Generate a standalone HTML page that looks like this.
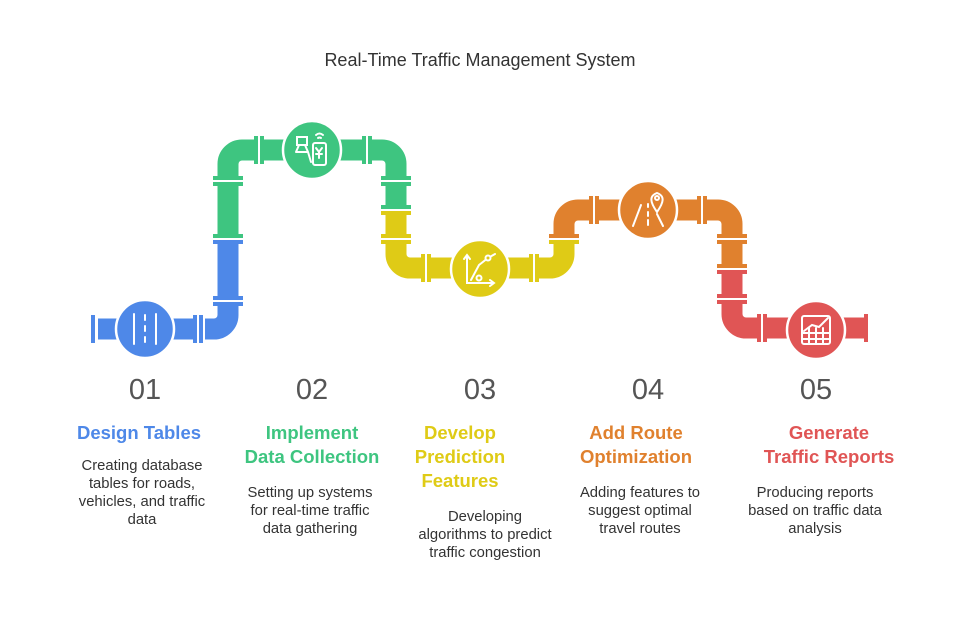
<!DOCTYPE html>
<html><head><meta charset="utf-8"><style>
body{margin:0;background:#fff}
svg{display:block}
text{font-family:"Liberation Sans",sans-serif}
.n{font-size:29px;fill:#555;font-weight:300}
.t{font-size:18.5px;font-weight:bold}
.d{font-size:14.8px;fill:#333}
</style></head><body>
<svg width="960" height="636" viewBox="0 0 960 636" xmlns="http://www.w3.org/2000/svg">
<rect width="960" height="636" fill="#fff"/>
<text x="480" y="66" text-anchor="middle" font-size="18" fill="#333">Real-Time Traffic Management System</text>
<g fill="none" stroke-width="21" stroke-linecap="butt">
<path d="M94 329 H214 A14 14 0 0 0 228 315 V238" stroke="#4E88E8"/>
<path d="M228 238 V164 A14 14 0 0 1 242 150 H382 A14 14 0 0 1 396 164 V208" stroke="#3EC580"/>
<path d="M396 208 V254 A14 14 0 0 0 410 268 H550 A14 14 0 0 0 564 254 V238" stroke="#DFCB16"/>
<path d="M564 238 V224 A14 14 0 0 1 578 210 H718 A14 14 0 0 1 732 224 V268" stroke="#E0812E"/>
<path d="M732 268 V314 A14 14 0 0 0 746 328 H866" stroke="#E05555"/>
</g>
<g>
<g fill="#4E88E8"><rect x="91" y="315" width="4" height="28"/><rect x="193" y="315" width="4" height="28"/><rect x="199" y="315" width="4" height="28"/></g>
<g fill="#fff"><rect x="95" y="315" width="3" height="28"/><rect x="197" y="315" width="2" height="28"/><rect x="203" y="315" width="2" height="28"/></g>
<g>
<rect x="213" y="296" width="30" height="4" fill="#4E88E8"/><rect x="213" y="300" width="30" height="2" fill="#fff"/><rect x="213" y="302" width="30" height="4" fill="#4E88E8"/>
<rect x="213" y="234" width="30" height="4" fill="#3EC580"/><rect x="213" y="238" width="30" height="2" fill="#fff"/><rect x="213" y="240" width="30" height="4" fill="#4E88E8"/>
<rect x="213" y="176" width="30" height="4" fill="#3EC580"/><rect x="213" y="180" width="30" height="2" fill="#fff"/><rect x="213" y="182" width="30" height="4" fill="#3EC580"/>
<rect x="381" y="176" width="30" height="4" fill="#3EC580"/><rect x="381" y="180" width="30" height="2" fill="#fff"/><rect x="381" y="182" width="30" height="4" fill="#3EC580"/>
<rect x="381" y="205" width="30" height="4" fill="#3EC580"/><rect x="381" y="209" width="30" height="2" fill="#fff"/><rect x="381" y="211" width="30" height="4" fill="#DFCB16"/>
<rect x="381" y="234" width="30" height="4" fill="#DFCB16"/><rect x="381" y="238" width="30" height="2" fill="#fff"/><rect x="381" y="240" width="30" height="4" fill="#DFCB16"/>
<rect x="549" y="234" width="30" height="4" fill="#E0812E"/><rect x="549" y="238" width="30" height="2" fill="#fff"/><rect x="549" y="240" width="30" height="4" fill="#DFCB16"/>
<rect x="717" y="234" width="30" height="4" fill="#E0812E"/><rect x="717" y="238" width="30" height="2" fill="#fff"/><rect x="717" y="240" width="30" height="4" fill="#E0812E"/>
<rect x="717" y="264" width="30" height="4" fill="#E0812E"/><rect x="717" y="268" width="30" height="2" fill="#fff"/><rect x="717" y="270" width="30" height="4" fill="#E05555"/>
<rect x="717" y="294" width="30" height="4" fill="#E05555"/><rect x="717" y="298" width="30" height="2" fill="#fff"/><rect x="717" y="300" width="30" height="4" fill="#E05555"/>
</g>
<g>
<rect x="254" y="136" width="4" height="28" fill="#3EC580"/><rect x="258" y="136" width="2" height="28" fill="#fff"/><rect x="260" y="136" width="4" height="28" fill="#3EC580"/>
<rect x="362" y="136" width="4" height="28" fill="#3EC580"/><rect x="366" y="136" width="2" height="28" fill="#fff"/><rect x="368" y="136" width="4" height="28" fill="#3EC580"/>
<rect x="421" y="254" width="4" height="28" fill="#DFCB16"/><rect x="425" y="254" width="2" height="28" fill="#fff"/><rect x="427" y="254" width="4" height="28" fill="#DFCB16"/>
<rect x="529" y="254" width="4" height="28" fill="#DFCB16"/><rect x="533" y="254" width="2" height="28" fill="#fff"/><rect x="535" y="254" width="4" height="28" fill="#DFCB16"/>
<rect x="589" y="196" width="4" height="28" fill="#E0812E"/><rect x="593" y="196" width="2" height="28" fill="#fff"/><rect x="595" y="196" width="4" height="28" fill="#E0812E"/>
<rect x="697" y="196" width="4" height="28" fill="#E0812E"/><rect x="701" y="196" width="2" height="28" fill="#fff"/><rect x="703" y="196" width="4" height="28" fill="#E0812E"/>
<rect x="757" y="314" width="4" height="28" fill="#E05555"/><rect x="761" y="314" width="2" height="28" fill="#fff"/><rect x="763" y="314" width="4" height="28" fill="#E05555"/>
<rect x="864" y="314" width="4" height="28" fill="#E05555"/>
</g>
</g>
<g stroke="#fff" stroke-width="2.5">
<circle cx="145" cy="329" r="29" fill="#4E88E8"/>
<circle cx="312" cy="150" r="29" fill="#3EC580"/>
<circle cx="480" cy="269" r="29" fill="#DFCB16"/>
<circle cx="648" cy="210" r="29" fill="#E0812E"/>
<circle cx="816" cy="330" r="29" fill="#E05555"/>
</g>
<g stroke="#fff" stroke-width="2" fill="none" stroke-linecap="round">
<line x1="134" y1="314" x2="134" y2="344"/><line x1="156" y1="314" x2="156" y2="344"/>
<line x1="145" y1="315" x2="145" y2="320"/><line x1="145" y1="326" x2="145" y2="331"/><line x1="145" y1="337" x2="145" y2="342"/>
<rect x="297" y="137" width="10" height="8"/><path d="M296 152 h12 M299 145 l-3 7 M305 145 l3 7 M308 152 l3 10"/>
<rect x="313" y="143" width="13" height="22" rx="2"/><path d="M316 148 l3 4 l3 -4 M319 152 v6 M316 154 h6 M316 135 q3.5 -3 7 0 M318 138 q1.5 -1 3 0"/>
<path d="M467 255 v28 h27 M464 259 l3 -4 l3 4 M490 280 l4 3 l-4 3 M471 280 L479 265 L488 258 L495 254"/>
<circle cx="479" cy="278" r="2.5" fill="#DFCB16"/><circle cx="488" cy="258" r="2.5" fill="#DFCB16"/>
<path d="M633 226 L641 205 M648 204 v3 M648 212 v4 M648 220 v5 M657 214 L663 226"/>
<path d="M657 212 C650 202 649 196 657 193 C665 196 664 202 657 212Z"/><circle cx="657" cy="198" r="2"/>
<rect x="802" y="316" width="28" height="28" rx="2"/>
<path d="M802 333 h28 M802 339 h28 M809 328 v16 M816 328 v16 M823 328 v16 M804 331 L812 325 L819 327 L828 318"/>
</g>
<g text-anchor="middle">
<text class="n" x="145" y="399">01</text>
<text class="n" x="312" y="399">02</text>
<text class="n" x="480" y="399">03</text>
<text class="n" x="648" y="399">04</text>
<text class="n" x="816" y="399">05</text>
<g class="t">
<text x="139" y="439" fill="#4E88E8">Design Tables</text>
<text x="312" y="439" fill="#3EC580">Implement</text><text x="312" y="463" fill="#3EC580">Data Collection</text>
<text x="460" y="439" fill="#DFCB16">Develop</text><text x="460" y="463" fill="#DFCB16">Prediction</text><text x="460" y="487" fill="#DFCB16">Features</text>
<text x="636" y="439" fill="#E0812E">Add Route</text><text x="636" y="463" fill="#E0812E">Optimization</text>
<text x="829" y="439" fill="#E05555">Generate</text><text x="829" y="463" fill="#E05555">Traffic Reports</text>
</g>
<g class="d">
<text x="142" y="470">Creating database</text><text x="142" y="488">tables for roads,</text><text x="142" y="506">vehicles, and traffic</text><text x="142" y="524">data</text>
<text x="310" y="497">Setting up systems</text><text x="310" y="515">for real-time traffic</text><text x="310" y="533">data gathering</text>
<text x="485" y="521">Developing</text><text x="485" y="539">algorithms to predict</text><text x="485" y="557">traffic congestion</text>
<text x="640" y="497">Adding features to</text><text x="640" y="515">suggest optimal</text><text x="640" y="533">travel routes</text>
<text x="815" y="497">Producing reports</text><text x="815" y="515">based on traffic data</text><text x="815" y="533">analysis</text>
</g>
</g>
</svg>
</body></html>
